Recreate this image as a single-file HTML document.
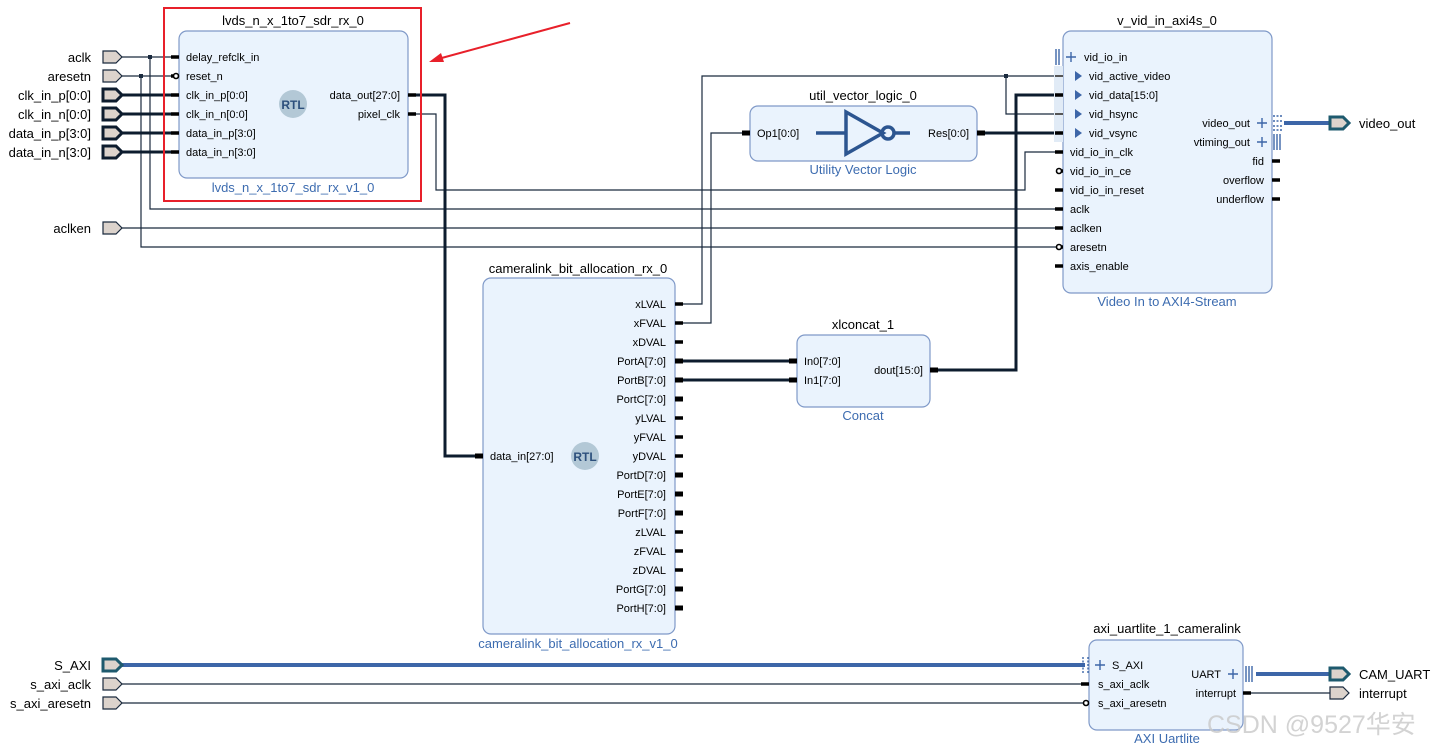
<!DOCTYPE html>
<html><head><meta charset="utf-8"><style>
html,body{margin:0;padding:0;background:#fff;}
svg{display:block;font-family:"Liberation Sans","Noto Sans CJK SC",sans-serif;}
.t{font-size:13px;fill:#000;}
.s{font-size:11px;fill:#000;}
.sub{font-size:13px;fill:#3d6cb0;}
.blk{fill:#eaf3fd;stroke:#7f99c8;stroke-width:1.2;}
.w{stroke:#1a2a3e;stroke-width:1.2;fill:none;}
.tw{stroke:#0d1c2e;stroke-width:3;fill:none;}
.bw{stroke:#3d66a8;stroke-width:4;fill:none;}
.st{stroke:#000;stroke-width:3.5;}
.stt{stroke:#000;stroke-width:5;}
.pin{fill:#dcd3cc;stroke:#1a2a3e;stroke-width:1.2;}
.pint{fill:#dcd3cc;stroke:#0d1c2e;stroke-width:3;}
.pinb{fill:#dcd3cc;stroke:#1e5a6e;stroke-width:3;}
</style></head><body>
<svg width="1440" height="752" viewBox="0 0 1440 752">
<!-- wires -->
<g class="w">
<path d="M122 57H171M150 57V209H1063"/>
<path d="M122 76H171M141 76V247H1063"/>
<path d="M122 228H1063"/>
<path d="M416 114H436V190H1025V152H1063"/>
<path d="M683 304H702V76H1063M1006 76V114H1063"/>
<path d="M683 323H711V133H742"/>
<path d="M122 684H1089"/>
<path d="M122 703H1089"/>
<path d="M1251 693H1330"/>
</g>
<g class="tw">
<path d="M122 95H171M122 114H171M122 133H171M122 152H171"/>
<path d="M416 95H445V456H475"/>
<path d="M683 361H789M683 380H789"/>
<path d="M938 370H1016V95H1063"/>
<path d="M985 133H1063"/>
</g>
<g class="bw">
<path d="M122 665H1085"/>
<path d="M1284 123H1330"/>
<path d="M1256 674H1330"/>
</g>
<rect x="148" y="55" width="4" height="4" fill="#1a2a3e"/>
<rect x="139" y="74" width="4" height="4" fill="#1a2a3e"/>
<rect x="1004" y="74" width="4" height="4" fill="#1a2a3e"/>

<!-- external pins -->
<g class="pin">
<path d="M103 51h13l6 6-6 6h-13z"/>
<path d="M103 70h13l6 6-6 6h-13z"/>
<path d="M103 222h13l6 6-6 6h-13z"/>
<path d="M103 678h13l6 6-6 6h-13z"/>
<path d="M103 697h13l6 6-6 6h-13z"/>
<path d="M1330 687h13l6 6-6 6h-13z"/>
</g>
<g class="pint">
<path d="M103 89h13l6 6-6 6h-13z"/>
<path d="M103 108h13l6 6-6 6h-13z"/>
<path d="M103 127h13l6 6-6 6h-13z"/>
<path d="M103 146h13l6 6-6 6h-13z"/>
</g>
<g class="pinb">
<path d="M103 659h13l6 6-6 6h-13z"/>
<path d="M1330 117h13l6 6-6 6h-13z"/>
<path d="M1330 668h13l6 6-6 6h-13z"/>
</g>
<g class="t" text-anchor="end">
<text x="91" y="62">aclk</text><text x="91" y="81">aresetn</text>
<text x="91" y="100">clk_in_p[0:0]</text><text x="91" y="119">clk_in_n[0:0]</text>
<text x="91" y="138">data_in_p[3:0]</text><text x="91" y="157">data_in_n[3:0]</text>
<text x="91" y="233">aclken</text>
<text x="91" y="670">S_AXI</text><text x="91" y="689">s_axi_aclk</text><text x="91" y="708">s_axi_aresetn</text>
</g>
<g class="t"><text x="1359" y="128">video_out</text><text x="1359" y="679">CAM_UART</text><text x="1359" y="698">interrupt</text></g>

<!-- lvds block -->
<rect x="164" y="8" width="257" height="193" fill="none" stroke="#e8202a" stroke-width="2"/>
<text class="t" x="293" y="25" text-anchor="middle">lvds_n_x_1to7_sdr_rx_0</text>
<rect class="blk" x="179" y="31" width="229" height="147" rx="8"/>
<text class="sub" x="293" y="192" text-anchor="middle">lvds_n_x_1to7_sdr_rx_v1_0</text>
<g class="st"><path d="M171 57h8M171 95h8M171 114h8M171 133h8M171 152h8M408 95h8M408 114h8"/></g>
<path d="M171 76h4" class="st"/><circle cx="176" cy="76" r="2.5" fill="#fff" stroke="#000" stroke-width="1.6"/>
<g class="s"><text x="186" y="61">delay_refclk_in</text><text x="186" y="80">reset_n</text><text x="186" y="99">clk_in_p[0:0]</text><text x="186" y="118">clk_in_n[0:0]</text><text x="186" y="137">data_in_p[3:0]</text><text x="186" y="156">data_in_n[3:0]</text></g>
<g class="s" text-anchor="end"><text x="400" y="99">data_out[27:0]</text><text x="400" y="118">pixel_clk</text></g>
<circle cx="293" cy="104" r="14" fill="#b3c8d6"/><text x="293" y="109" text-anchor="middle" font-size="12" font-weight="bold" fill="#2c4f7c">RTL</text>

<!-- cameralink -->
<text class="t" x="578" y="273" text-anchor="middle">cameralink_bit_allocation_rx_0</text>
<rect class="blk" x="483" y="278" width="192" height="356" rx="8"/>
<text class="sub" x="578" y="648" text-anchor="middle">cameralink_bit_allocation_rx_v1_0</text>
<g class="st"><path d="M675 304h8M675 323h8M675 342h8M675 418h8M675 437h8M675 456h8M675 532h8M675 551h8M675 570h8"/></g>
<g class="stt"><path d="M675 361h8M675 380h8M675 399h8M675 475h8M675 494h8M675 513h8M675 589h8M675 608h8M475 456h8"/></g>
<g class="s" text-anchor="end">
<text x="666" y="308">xLVAL</text><text x="666" y="327">xFVAL</text><text x="666" y="346">xDVAL</text>
<text x="666" y="365">PortA[7:0]</text><text x="666" y="384">PortB[7:0]</text><text x="666" y="403">PortC[7:0]</text>
<text x="666" y="422">yLVAL</text><text x="666" y="441">yFVAL</text><text x="666" y="460">yDVAL</text>
<text x="666" y="479">PortD[7:0]</text><text x="666" y="498">PortE[7:0]</text><text x="666" y="517">PortF[7:0]</text>
<text x="666" y="536">zLVAL</text><text x="666" y="555">zFVAL</text><text x="666" y="574">zDVAL</text>
<text x="666" y="593">PortG[7:0]</text><text x="666" y="612">PortH[7:0]</text>
</g>
<text class="s" x="490" y="460">data_in[27:0]</text>
<circle cx="585" cy="456" r="14" fill="#b3c8d6"/><text x="585" y="461" text-anchor="middle" font-size="12" font-weight="bold" fill="#2c4f7c">RTL</text>

<!-- util -->
<text class="t" x="863" y="100" text-anchor="middle">util_vector_logic_0</text>
<rect class="blk" x="750" y="106" width="227" height="55" rx="8"/>
<text class="sub" x="863" y="174" text-anchor="middle">Utility Vector Logic</text>
<g class="stt"><path d="M742 133h8M977 133h8"/></g>
<text class="s" x="757" y="137">Op1[0:0]</text><text class="s" x="969" y="137" text-anchor="end">Res[0:0]</text>
<g stroke="#2c5590" stroke-width="3.5" fill="none"><path d="M816 133h30M894 133h16"/><path d="M846 112v42l37-21z"/><circle cx="888" cy="133" r="6"/></g>

<!-- concat -->
<text class="t" x="863" y="329" text-anchor="middle">xlconcat_1</text>
<rect class="blk" x="797" y="335" width="133" height="72" rx="8"/>
<text class="sub" x="863" y="420" text-anchor="middle">Concat</text>
<g class="stt"><path d="M789 361h8M789 380h8M930 370h8"/></g>
<g class="s"><text x="804" y="365">In0[7:0]</text><text x="804" y="384">In1[7:0]</text><text x="923" y="374" text-anchor="end">dout[15:0]</text></g>

<!-- vid -->
<text class="t" x="1167" y="25" text-anchor="middle">v_vid_in_axi4s_0</text>
<rect class="blk" x="1063" y="31" width="209" height="262" rx="8"/>
<rect x="1054" y="66" width="9" height="76" fill="#e1ebf6"/>
<text class="sub" x="1167" y="306" text-anchor="middle">Video In to AXI4-Stream</text>
<g stroke="#3d66a8" stroke-width="1.4"><path d="M1056 49v16M1059 49v16M1066 57h10M1071 52v10"/></g>
<g fill="#3d66a8"><path d="M1075 71l7 5-7 5z"/><path d="M1075 90l7 5-7 5z"/><path d="M1075 109l7 5-7 5z"/><path d="M1075 128l7 5-7 5z"/></g>
<g stroke="#555" stroke-width="2"><path d="M1055 76h8M1055 114h8"/></g>
<g class="st"><path d="M1055 95h8M1055 133h8M1055 152h8M1055 190h8M1055 209h8M1055 228h8M1055 266h8M1272 161h8M1272 180h8M1272 199h8"/><path d="M1059 171h4M1059 247h4"/></g>
<circle cx="1059" cy="171" r="2.5" fill="#fff" stroke="#000" stroke-width="1.6"/>
<circle cx="1059" cy="247" r="2.5" fill="#fff" stroke="#000" stroke-width="1.6"/>
<g class="s"><text x="1084" y="61">vid_io_in</text><text x="1089" y="80">vid_active_video</text><text x="1089" y="99">vid_data[15:0]</text><text x="1089" y="118">vid_hsync</text><text x="1089" y="137">vid_vsync</text>
<text x="1070" y="156">vid_io_in_clk</text><text x="1070" y="175">vid_io_in_ce</text><text x="1070" y="194">vid_io_in_reset</text><text x="1070" y="213">aclk</text><text x="1070" y="232">aclken</text><text x="1070" y="251">aresetn</text><text x="1070" y="270">axis_enable</text></g>
<g class="s" text-anchor="end"><text x="1250" y="127">video_out</text><text x="1250" y="146">vtiming_out</text><text x="1264" y="165">fid</text><text x="1264" y="184">overflow</text><text x="1264" y="203">underflow</text></g>
<g stroke="#3d66a8" stroke-width="1.4"><path d="M1257 123h10M1262 118v10M1257 142h10M1262 137v10M1274 134v16M1277 134v16M1280 134v16"/><path d="M1273 116h10M1273 121h10M1273 126h10M1273 130h10" stroke-dasharray="2 1.5"/></g>

<!-- uart -->
<text class="t" x="1167" y="633" text-anchor="middle">axi_uartlite_1_cameralink</text>
<rect class="blk" x="1089" y="640" width="154" height="90" rx="8"/>
<text class="sub" x="1167" y="743" text-anchor="middle">AXI Uartlite</text>
<g stroke="#3d66a8" stroke-width="1.4"><path d="M1083 657v16M1088 657v16" stroke-dasharray="2 1.5"/><path d="M1095 665h10M1100 660v10M1228 674h10M1233 669v10M1246 666v16M1249 666v16M1252 666v16"/></g>
<g class="st"><path d="M1081 684h8M1243 693h8"/><path d="M1085 703h4"/></g>
<circle cx="1086" cy="703" r="2.5" fill="#fff" stroke="#000" stroke-width="1.6"/>
<g class="s"><text x="1112" y="669">S_AXI</text><text x="1098" y="688">s_axi_aclk</text><text x="1098" y="707">s_axi_aresetn</text></g>
<g class="s" text-anchor="end"><text x="1221" y="678">UART</text><text x="1236" y="697">interrupt</text></g>

<!-- red arrow -->
<path d="M570 23L438 59" stroke="#e8202a" stroke-width="2" fill="none"/>
<path d="M429 62l12-9 3 9z" fill="#e8202a"/>

<text x="1207" y="733" font-size="25" fill="#c8c8c8" fill-opacity="0.8">CSDN @9527华安</text>
</svg>
</body></html>
